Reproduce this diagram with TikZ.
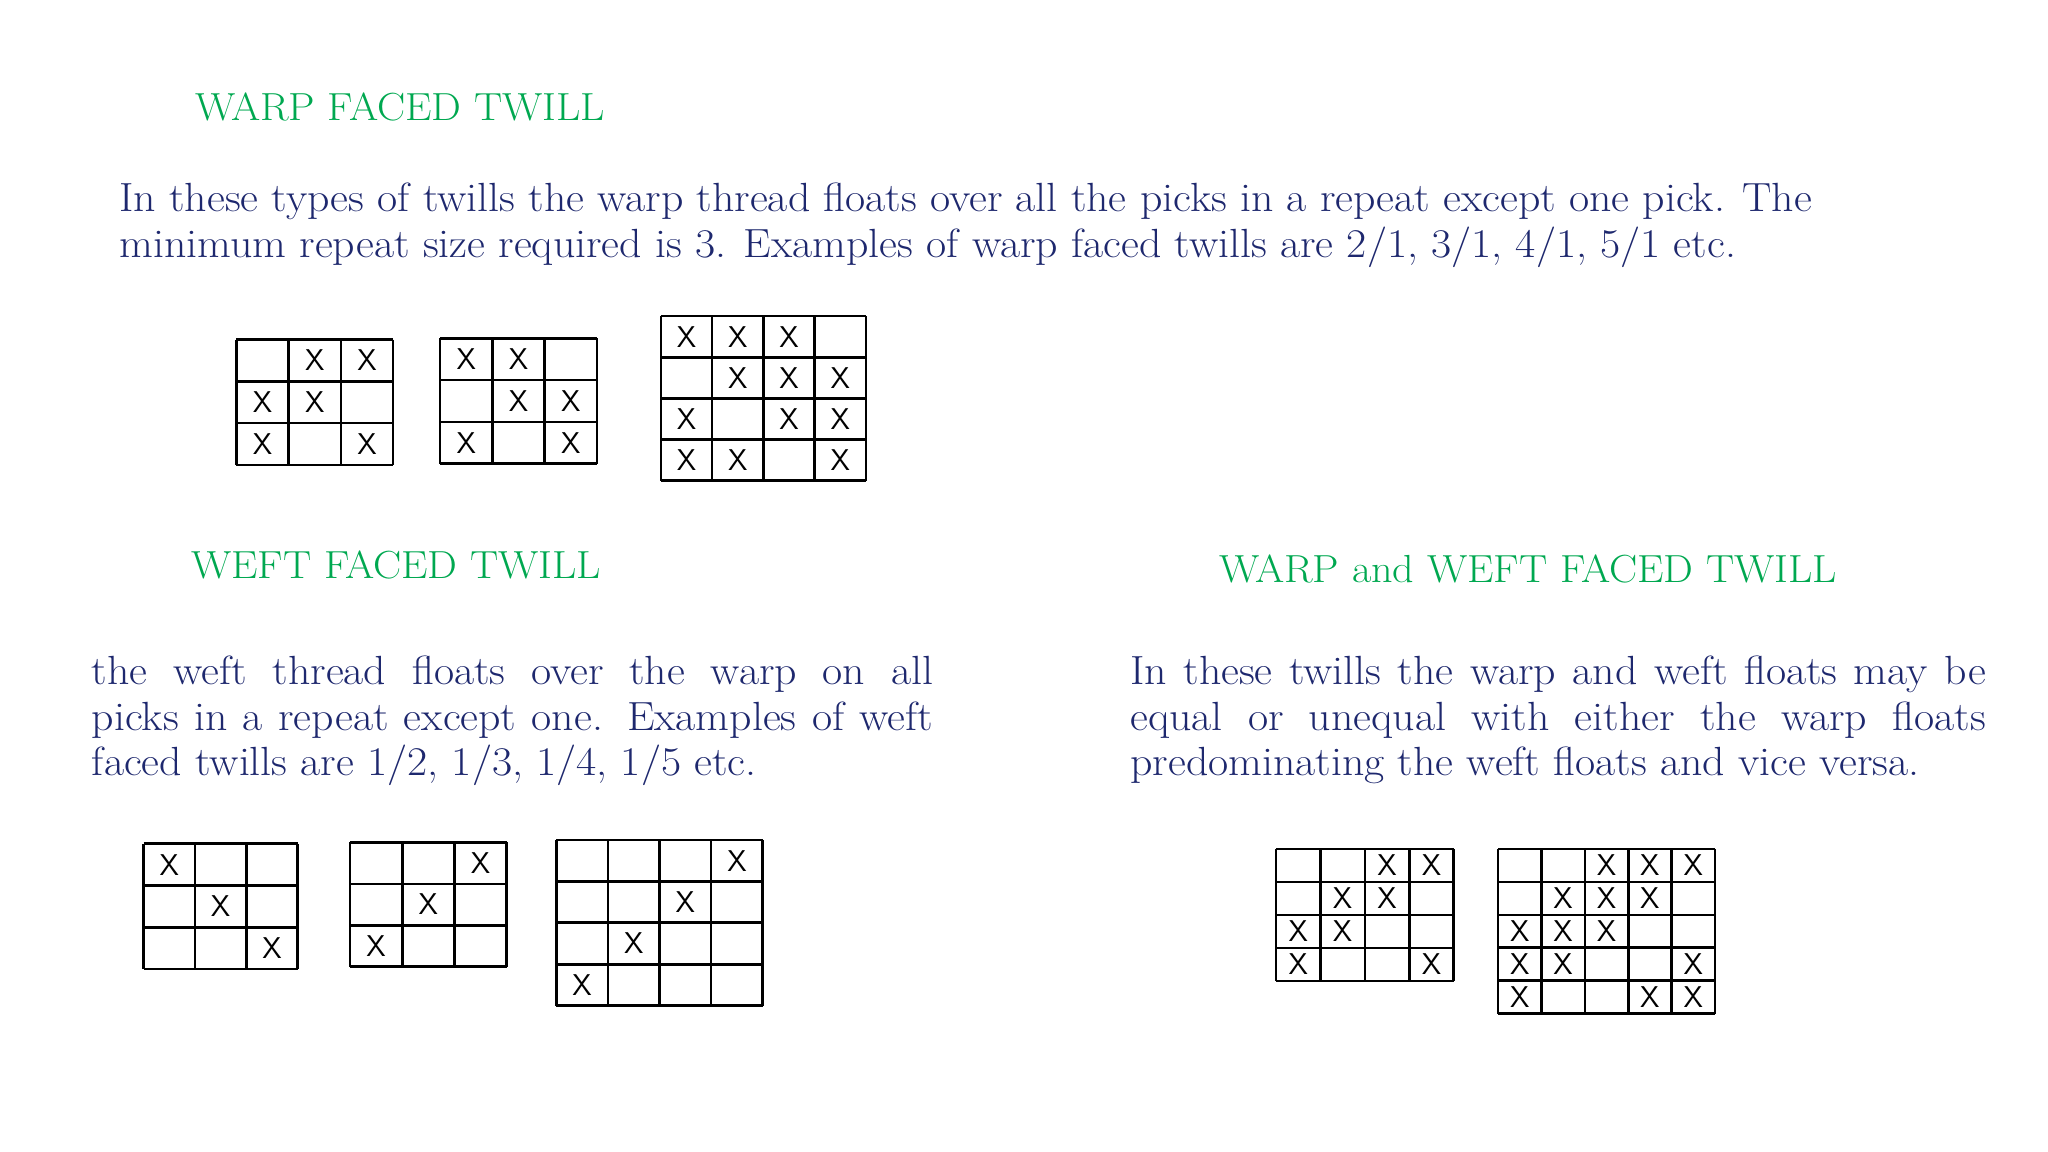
\documentclass[tikz,border=0pt]{standalone}
\usepackage{fontspec}
\setmainfont{Latin Modern Roman}[FakeStretch=1.075]
\definecolor{navy}{RGB}{30,40,110}
\definecolor{hgreen}{RGB}{0,168,80}
\newcommand{\twgrid}[7]{% x0 y0 cw ch ncols nrows cells(c/r)
  \foreach \i in {0,...,#5}{\draw[line width=1pt] ({#1+\i*#3},#2) -- ({#1+\i*#3},{#2+#6*#4});}
  \foreach \j in {0,...,#6}{\draw[line width=1pt] (#1,{#2+\j*#4}) -- ({#1+#5*#3},{#2+\j*#4});}
  \foreach \c/\r in {#7}{\node[xmark] at ({#1+(\c-0.5)*#3},{#2+(\r-0.5)*#4}) {X};}
}
\newcommand{\jl}[2]{\makebox[#1][s]{#2}}
\begin{document}
\begin{tikzpicture}[x=0.5pt,y=-0.5pt,
  xmark/.style={font=\sffamily\fontsize{11.5}{12}\selectfont,inner sep=0pt},
  head/.style={anchor=base west,text=hgreen,font=\fontsize{15}{17.5}\selectfont,inner sep=0pt},
  body/.style={anchor=base west,text=navy,font=\fontsize{15.6}{17.5}\selectfont,inner sep=0pt}]
\useasboundingbox (0,0) rectangle (1568,882);
\node[head] (h1) at (149,92) {WARP FACED TWILL};
\node[body] (l1) at (91,162) {In these types of twills the warp thread floats over all the picks in a repeat except one pick. The};
\node[body] (l2) at (91,197) {minimum repeat size required is 3. Examples of warp faced twills are 2/1, 3/1, 4/1, 5/1 etc.};
\node[head] (h2) at (146,443) {WEFT FACED TWILL};
\node[head] (h3) at (933,446) {WARP and WEFT FACED TWILL};
\node[body] (p1a) at (70,524) {\jl{322pt}{the weft thread floats over the warp on all}};
\node[body] (p1b) at (70,559) {\jl{322pt}{picks in a repeat except one. Examples of weft}};
\node[body] (p1c) at (70,594) {faced twills are 1/2, 1/3, 1/4, 1/5 etc.};
\node[body] (p2a) at (865,524) {\jl{327.5pt}{In these twills the warp and weft floats may be}};
\node[body] (p2b) at (865,559) {\jl{327.5pt}{equal or unequal with either the warp floats}};
\node[body] (p2c) at (865,594) {predominating the weft floats and vice versa.};
\twgrid{181}{260}{40}{32}{3}{3}{2/1,3/1,1/2,2/2,1/3,3/3}
\twgrid{337}{259}{40}{32}{3}{3}{1/1,2/1,2/2,3/2,1/3,3/3}
\twgrid{506}{242}{39.25}{31.5}{4}{4}{1/1,2/1,3/1,2/2,3/2,4/2,1/3,3/3,4/3,1/4,2/4,4/4}
\twgrid{110}{646}{39.3}{32}{3}{3}{1/1,2/2,3/3}
\twgrid{268}{645}{40}{31.7}{3}{3}{3/1,2/2,1/3}
\twgrid{426}{643}{39.5}{31.75}{4}{4}{4/1,3/2,2/3,1/4}
\twgrid{977}{650}{34}{25.25}{4}{4}{3/1,4/1,2/2,3/2,1/3,2/3,1/4,4/4}
\twgrid{1147}{650}{33.2}{25.2}{5}{5}{3/1,4/1,5/1,2/2,3/2,4/2,1/3,2/3,3/3,1/4,2/4,5/4,1/5,4/5,5/5}
\end{tikzpicture}
\end{document}
